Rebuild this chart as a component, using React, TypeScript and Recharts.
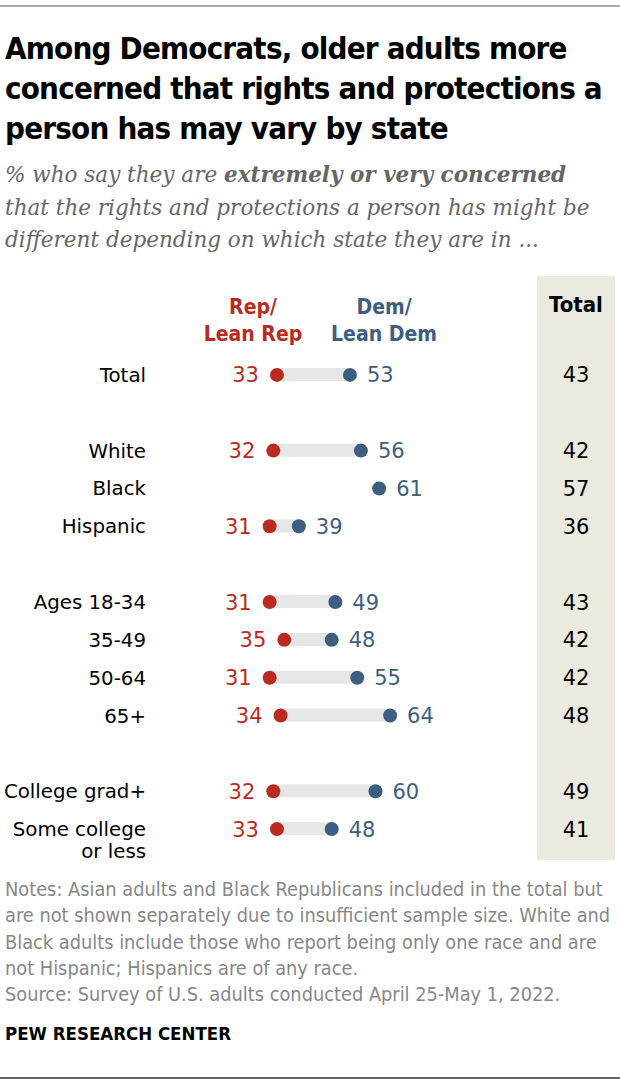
import React from 'react';
import { ComposedChart, Bar, Scatter, XAxis, YAxis } from 'recharts';

const groups = ['Total', 'White', 'Black', 'Hispanic', 'Ages 18-34', '35-49', '50-64', '65+', 'College grad+', 'Some college or less'];
const repValues: (number | null)[] = [33, 32, null, 31, 31, 35, 31, 34, 32, 33];
const demValues: number[] = [53, 56, 61, 39, 49, 48, 55, 64, 60, 48];
const totalValues: number[] = [43, 42, 57, 36, 43, 42, 42, 48, 49, 41];
// a blank row goes in after each of these
const breaksAfter = ['Total', 'Hispanic', '65+'];

const RED = '#BA2A21';
const BLUE = '#3D5E80';
const COND = '"DejaVu Sans Condensed", "DejaVu Sans", sans-serif';
const SANS = '"DejaVu Sans", sans-serif';
const SERIF = '"DejaVu Serif", serif';

type Row = { name: string; label: string; rep: number | null; dem: number | null; total: number | null; range: [number, number] | null };

const rows: Row[] = [];
groups.forEach((g, i) => {
    const rep = repValues[i];
    const dem = demValues[i];
    rows.push({ name: g, label: g, rep, dem, total: totalValues[i], range: rep != null ? [rep, dem] : null });
    if (breaksAfter.includes(g)) {
        rows.push({ name: 'gap-' + i, label: '', rep: null, dem: null, total: null, range: null });
    }
});

const findRow = (name: string) => rows.find(r => r.name === name);

const GroupTick = (props: any) => {
    const { y, payload } = props;
    const row = findRow(payload.value);
    if (!row || !row.label) return null;
    if (row.label === 'Some college or less') {
        return (
            <text x={146} y={y} textAnchor="end" fontFamily={SANS} fontSize={19.8} fill="#000">
                <tspan x={146} dy={7}>Some college</tspan>
                <tspan x={146} dy={22}>or less</tspan>
            </text>
        );
    }
    return (
        <text x={146} y={y} dy={7} textAnchor="end" fontFamily={SANS} fontSize={19.8} fill="#000">{row.label}</text>
    );
};

const TotalTick = (props: any) => {
    const { y, payload } = props;
    const row = findRow(payload.value);
    if (!row || row.total == null) return null;
    return (
        <text x={576} y={y} dy={7.5} textAnchor="middle" fontFamily={SANS} fontSize={21} fill="#000">{row.total}</text>
    );
};

const RepDot = (props: any) => {
    const { cx, cy, payload } = props;
    if (payload.rep == null || !isFinite(cx)) return null;
    return (
        <g>
            <circle cx={cx} cy={cy} r={7} fill={RED} />
            <text x={cx - 18} y={cy} dy={7.5} textAnchor="end" fontFamily={SANS} fontSize={21} fill={RED}>{payload.rep}</text>
        </g>
    );
};

const DemDot = (props: any) => {
    const { cx, cy, payload } = props;
    if (payload.dem == null || !isFinite(cx)) return null;
    return (
        <g>
            <circle cx={cx} cy={cy} r={7} fill={BLUE} />
            <text x={cx + 17} y={cy} dy={7.5} textAnchor="start" fontFamily={SANS} fontSize={21} fill={BLUE}>{payload.dem}</text>
        </g>
    );
};

export default function App() {
    return (
        <div style={{ position: 'relative', width: 620, height: 1084, background: '#fff', overflow: 'hidden' }}>
            <style>{`body{margin:0}`}</style>
            <div style={{ position: 'absolute', left: 0, right: 0, top: 5, height: 2, background: '#aaa' }} />

            <div style={{ position: 'absolute', left: 5, top: 28, whiteSpace: 'nowrap', fontFamily: COND, fontWeight: 700, fontSize: 31, letterSpacing: -0.8, lineHeight: '40px', color: '#000' }}>
                Among Democrats, older adults more<br />
                concerned that rights and protections a<br />
                person has may vary by state
            </div>
            <div style={{ position: 'absolute', left: 5, top: 159, whiteSpace: 'nowrap', fontFamily: SERIF, fontStyle: 'italic', fontSize: 21.5, lineHeight: '32.5px', color: '#666' }}>
                % who say they are <b>extremely or very concerned</b><br />
                that the rights and protections a person has might be<br />
                different depending on which state they are in ...
            </div>

            <div style={{ position: 'absolute', left: 537, top: 276, width: 78, height: 584, background: '#EAEADF' }} />
            <div style={{ position: 'absolute', left: 537, top: 292, width: 78, textAlign: 'center', fontFamily: COND, fontWeight: 700, fontSize: 22, color: '#000' }}>Total</div>
            <div style={{ position: 'absolute', left: 193, top: 294, width: 120, textAlign: 'center', fontFamily: COND, fontWeight: 700, fontSize: 21, lineHeight: '27px', color: RED }}>
                Rep/<br />Lean Rep
            </div>
            <div style={{ position: 'absolute', left: 324, top: 294, width: 120, textAlign: 'center', fontFamily: COND, fontWeight: 700, fontSize: 21, lineHeight: '27px', color: BLUE }}>
                Dem/<br />Lean Dem
            </div>

            <div style={{ position: 'absolute', left: 0, top: 356 }}>
                <ComposedChart
                    layout="vertical"
                    width={620}
                    height={528}
                    data={rows}
                    margin={{ top: 0, right: 0, bottom: 36, left: 0 }}
                >
                    <XAxis type="number" domain={[0, 100]} hide />
                    <YAxis yAxisId="left" type="category" dataKey="name" width={156.5} axisLine={false} tickLine={false} tick={<GroupTick />} interval={0} />
                    <YAxis yAxisId="right" orientation="right" type="category" dataKey="name" width={98.5} axisLine={false} tickLine={false} tick={<TotalTick />} interval={0} />
                    <Bar yAxisId="left" dataKey="range" fill="#E6E6E6" barSize={13} isAnimationActive={false} />
                    <Scatter yAxisId="left" dataKey="rep" shape={<RepDot />} isAnimationActive={false} />
                    <Scatter yAxisId="left" dataKey="dem" shape={<DemDot />} isAnimationActive={false} />
                </ComposedChart>
            </div>

            <div style={{ position: 'absolute', left: 5, top: 877, whiteSpace: 'nowrap', fontFamily: COND, fontSize: 19.8, lineHeight: '26.3px', color: '#878787' }}>
                Notes: Asian adults and Black Republicans included in the total but<br />
                are not shown separately due to insufficient sample size. White and<br />
                Black adults include those who report being only one race and are<br />
                not Hispanic; Hispanics are of any race.<br />
                Source: Survey of U.S. adults conducted April 25-May 1, 2022.
            </div>
            <div style={{ position: 'absolute', left: 5, top: 1023, fontFamily: COND, fontWeight: 700, fontSize: 18.5, color: '#000' }}>PEW RESEARCH CENTER</div>
            <div style={{ position: 'absolute', left: 0, right: 0, top: 1077, height: 1.5, background: '#666' }} />
        </div>
    );
}
